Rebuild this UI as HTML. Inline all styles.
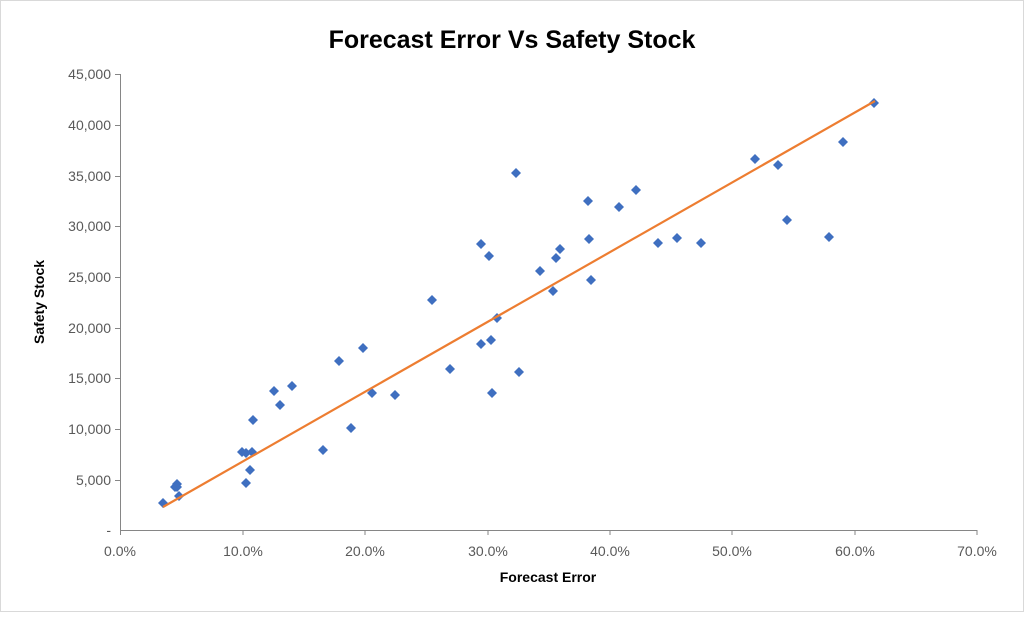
<!DOCTYPE html>
<html><head><style>body{margin:0;background:#fff}</style></head><body>
<svg width="1024" height="612" xmlns="http://www.w3.org/2000/svg" font-family="Liberation Sans, sans-serif">
<rect x="0.5" y="0.5" width="1023" height="611" fill="#fff" stroke="#d9d9d9"/>
<text x="512" y="48" text-anchor="middle" font-size="25" font-weight="bold" fill="#000">Forecast Error Vs Safety Stock</text>
<g stroke="#868686" stroke-width="1">
<line x1="120.5" y1="74" x2="120.5" y2="530"/>
<line x1="120" y1="530.5" x2="977" y2="530.5"/>
</g>
<g stroke="#868686">
<line x1="115" y1="74.5" x2="120" y2="74.5"/><line x1="115" y1="125.5" x2="120" y2="125.5"/><line x1="115" y1="176.5" x2="120" y2="176.5"/><line x1="115" y1="226.5" x2="120" y2="226.5"/><line x1="115" y1="277.5" x2="120" y2="277.5"/><line x1="115" y1="328.5" x2="120" y2="328.5"/><line x1="115" y1="378.5" x2="120" y2="378.5"/><line x1="115" y1="429.5" x2="120" y2="429.5"/><line x1="115" y1="480.5" x2="120" y2="480.5"/>
<line x1="120.5" y1="530" x2="120.5" y2="535"/><line x1="243" y1="530" x2="243" y2="535"/><line x1="365" y1="530" x2="365" y2="535"/><line x1="488" y1="530" x2="488" y2="535"/><line x1="610" y1="530" x2="610" y2="535"/><line x1="732" y1="530" x2="732" y2="535"/><line x1="855" y1="530" x2="855" y2="535"/><line x1="977" y1="530" x2="977" y2="535"/>
</g>
<g font-size="14" fill="#595959" text-anchor="end">
<text x="111" y="79">45,000</text><text x="111" y="130">40,000</text><text x="111" y="181">35,000</text><text x="111" y="231">30,000</text><text x="111" y="282">25,000</text><text x="111" y="333">20,000</text><text x="111" y="383">15,000</text><text x="111" y="434">10,000</text><text x="111" y="485">5,000</text><text x="111" y="535">-</text>
</g>
<g font-size="14" fill="#595959" text-anchor="middle">
<text x="120" y="556">0.0%</text><text x="243" y="556">10.0%</text><text x="365" y="556">20.0%</text><text x="488" y="556">30.0%</text><text x="610" y="556">40.0%</text><text x="732" y="556">50.0%</text><text x="855" y="556">60.0%</text><text x="977" y="556">70.0%</text>
</g>
<text x="548" y="582" text-anchor="middle" font-size="14" font-weight="bold">Forecast Error</text>
<text transform="translate(44,302) rotate(-90)" text-anchor="middle" font-size="14" font-weight="bold">Safety Stock</text>
<g fill="#3f6fc0">
<path d="M163 498l5 5-5 5-5-5z"/><path d="M175 482l5 5-5 5-5-5z"/><path d="M177 479l5 5-5 5-5-5z"/><path d="M177 482l5 5-5 5-5-5z"/><path d="M179 491l5 5-5 5-5-5z"/>
<path d="M242 447l5 5-5 5-5-5z"/><path d="M246 448l5 5-5 5-5-5z"/><path d="M252 447l5 5-5 5-5-5z"/><path d="M246 478l5 5-5 5-5-5z"/><path d="M250 465l5 5-5 5-5-5z"/><path d="M253 415l5 5-5 5-5-5z"/>
<path d="M274 386l5 5-5 5-5-5z"/><path d="M280 400l5 5-5 5-5-5z"/><path d="M292 381l5 5-5 5-5-5z"/><path d="M323 445l5 5-5 5-5-5z"/><path d="M339 356l5 5-5 5-5-5z"/><path d="M351 423l5 5-5 5-5-5z"/><path d="M363 343l5 5-5 5-5-5z"/><path d="M372 388l5 5-5 5-5-5z"/><path d="M395 390l5 5-5 5-5-5z"/><path d="M450 364l5 5-5 5-5-5z"/>
<path d="M481 339l5 5-5 5-5-5z"/><path d="M491 335l5 5-5 5-5-5z"/><path d="M492 388l5 5-5 5-5-5z"/><path d="M519 367l5 5-5 5-5-5z"/><path d="M497 313l5 5-5 5-5-5z"/>
<path d="M432 295l5 5-5 5-5-5z"/><path d="M481 239l5 5-5 5-5-5z"/><path d="M489 251l5 5-5 5-5-5z"/><path d="M516 168l5 5-5 5-5-5z"/><path d="M540 266l5 5-5 5-5-5z"/><path d="M553 286l5 5-5 5-5-5z"/><path d="M556 253l5 5-5 5-5-5z"/><path d="M560 244l5 5-5 5-5-5z"/><path d="M588 196l5 5-5 5-5-5z"/><path d="M589 234l5 5-5 5-5-5z"/><path d="M591 275l5 5-5 5-5-5z"/><path d="M619 202l5 5-5 5-5-5z"/><path d="M636 185l5 5-5 5-5-5z"/><path d="M658 238l5 5-5 5-5-5z"/><path d="M677 233l5 5-5 5-5-5z"/><path d="M701 238l5 5-5 5-5-5z"/><path d="M755 154l5 5-5 5-5-5z"/><path d="M778 160l5 5-5 5-5-5z"/><path d="M787 215l5 5-5 5-5-5z"/><path d="M829 232l5 5-5 5-5-5z"/><path d="M843 137l5 5-5 5-5-5z"/><path d="M874 98l5 5-5 5-5-5z"/>
</g>
<line x1="163" y1="507" x2="875" y2="101" stroke="#ed7d31" stroke-width="2.2"/>
</svg>
</body></html>
